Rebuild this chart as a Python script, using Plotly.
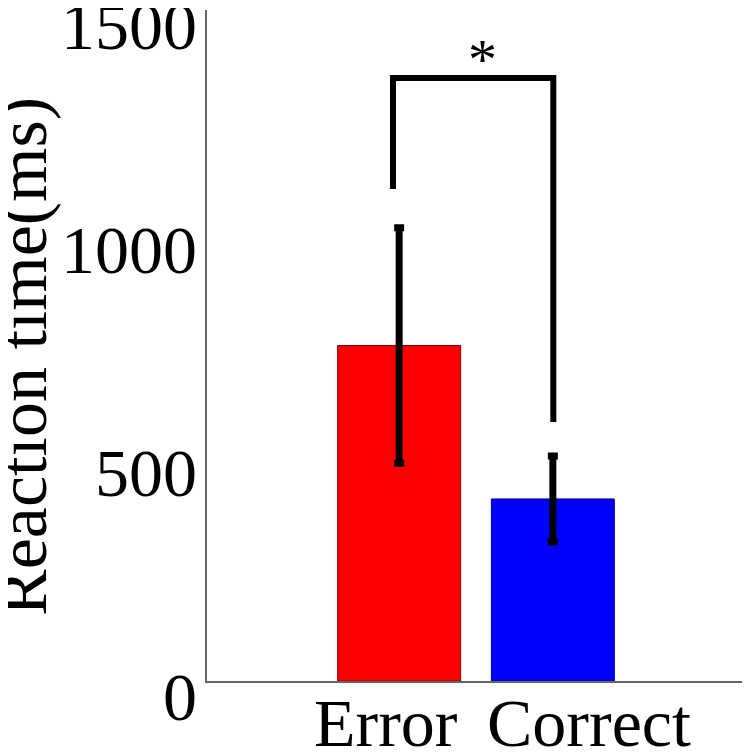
import plotly.graph_objects as go

# data
conditions = ["Error", "Correct"]
positions = [1, 2]
mean_rt = [750, 407]
sem_rt = [263, 96]
bar_colors = ["#FF0000", "#0000FF"]
edge_colors = ["#8B0000", "#00008B"]

y_ticks = [0, 500, 1000, 1500]
y_tick_text = ["0", "500", "1000", "1500"]

# significance bracket (Error vs Correct)
bracket_x = [0.96, 0.96, 2.003, 2.003]
bracket_y = [1100, 1348, 1348, 579]
star_label = "*"

FONT = "Liberation Serif, Times New Roman, serif"
TXT = dict(family=FONT, size=68, color="black")

fig = go.Figure()
fig.add_trace(go.Bar(
    x=positions,
    y=mean_rt,
    width=0.8,
    marker=dict(color=bar_colors, line=dict(color=edge_colors, width=1)),
    error_y=dict(type="data", array=sem_rt, color="black", thickness=7, width=5),
    showlegend=False,
))
fig.add_trace(go.Scatter(
    x=bracket_x,
    y=bracket_y,
    mode="lines",
    line=dict(color="black", width=6),
    showlegend=False,
))
fig.add_annotation(
    x=sum(positions) / 2, y=max(bracket_y),
    text=star_label, showarrow=False,
    yanchor="bottom", xshift=6, yshift=-16,
    font=dict(family=FONT, size=58, color="black"),
)

# y tick labels (drawn a bit below the tick, as in the original)
for v, t in zip(y_ticks, y_tick_text):
    fig.add_annotation(
        xref="paper", x=0, y=v, text=t, showarrow=False,
        xanchor="right", yanchor="middle", xshift=-8, yshift=-16, font=TXT,
    )

# category labels under the bars
label_shift = [-13, 36]
for p, c, s in zip(positions, conditions, label_shift):
    fig.add_annotation(
        x=p, yref="paper", y=0, text=c, showarrow=False,
        xanchor="center", yanchor="top", xshift=s, yshift=-2, font=TXT,
    )

# axis title
fig.add_annotation(
    xref="paper", yref="paper", x=0, y=0.483, text="Reaction time(ms)",
    textangle=-90, showarrow=False, xanchor="center", yanchor="middle",
    xshift=-184, font=dict(family=FONT, size=70, color="black"),
)

fig.update_layout(
    width=750, height=753,
    margin=dict(l=199, r=13, t=2, b=80),
    paper_bgcolor="white",
    plot_bgcolor="white",
    font=TXT,
    bargap=0.2,
)
fig.update_xaxes(
    range=[-0.25, 3.25],
    showticklabels=False, automargin=False,
    showgrid=False, zeroline=False,
    showline=True, linecolor="#666666", linewidth=1.5,
    ticks="",
)
fig.update_yaxes(
    range=[0, 1500],
    tickvals=y_ticks, showticklabels=False, automargin=False,
    showgrid=False, zeroline=False,
    showline=True, linecolor="#666666", linewidth=1.5,
    ticks="",
)

fig.write_html("out.html")
